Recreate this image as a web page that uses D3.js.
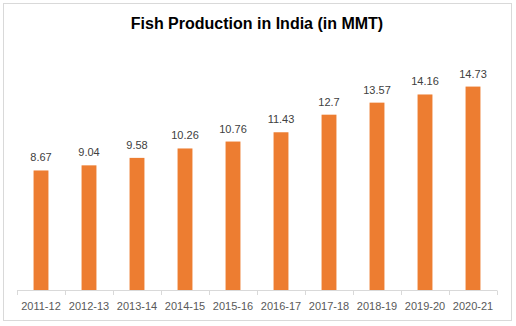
<!DOCTYPE html>
<html><head><meta charset="utf-8">
<script src="https://cdn.jsdelivr.net/npm/d3@7"></script>
<style>body{margin:0;background:#fff}svg{display:block}</style>
</head><body><svg id="c" width="516" height="326"></svg>
<script>
const title = "Fish Production in India (in MMT)";
const categories = ["2011-12","2012-13","2013-14","2014-15","2015-16","2016-17","2017-18","2018-19","2019-20","2020-21"];
const values = [8.67, 9.04, 9.58, 10.26, 10.76, 11.43, 12.7, 13.57, 14.16, 14.73];
const labels = ["8.67","9.04","9.58","10.26","10.76","11.43","12.7","13.57","14.16","14.73"];

const svg = d3.select("#c");
svg.append("rect").attr("x",0).attr("y",0).attr("width",516).attr("height",326).attr("fill","#fff");
svg.append("rect").attr("x",3.5).attr("y",3.5).attr("width",508).attr("height",317)
  .attr("fill","#fff").attr("stroke","#d9d9d9").attr("stroke-width",1);

svg.append("text").attr("x",257).attr("y",29).attr("text-anchor","middle")
  .attr("font-family","'Liberation Sans', Arial, sans-serif").attr("font-weight","bold")
  .attr("font-size",16).attr("fill","#000").text(title);

const x = d3.scaleBand().domain(categories).range([17,497]).paddingInner(0.69).paddingOuter(0.345);
const y = d3.scaleLinear().domain([0,16]).range([290.5,69]);

svg.append("g").selectAll("rect").data(values).join("rect")
  .attr("x",(d,i)=>x(categories[i])).attr("width",x.bandwidth())
  .attr("y",d=>y(d)).attr("height",d=>y(0)-y(d)).attr("fill","#ed7d31");

svg.append("g").selectAll("text").data(values).join("text")
  .attr("x",(d,i)=>x(categories[i])+x.bandwidth()/2).attr("y",d=>y(d)-9)
  .attr("text-anchor","middle").attr("font-family","'Liberation Sans', Arial, sans-serif")
  .attr("font-size",11).attr("fill","#404040").text((d,i)=>labels[i]);

const xb = d3.scalePoint().domain(d3.range(categories.length+1)).range([17,497]);
const ax = svg.append("g");
ax.append("line").attr("x1",17).attr("x2",497).attr("y1",290.5).attr("y2",290.5).attr("stroke","#d9d9d9");
ax.selectAll("line.t").data(xb.domain()).join("line").attr("class","t")
  .attr("x1",d=>Math.round(xb(d))+0.5).attr("x2",d=>Math.round(xb(d))+0.5)
  .attr("y1",290.5).attr("y2",295).attr("stroke","#d9d9d9");
svg.append("g").selectAll("text").data(categories).join("text")
  .attr("x",d=>x(d)+x.bandwidth()/2).attr("y",309.5)
  .attr("text-anchor","middle").attr("font-family","'Liberation Sans', Arial, sans-serif")
  .attr("font-size",11).attr("fill","#595959").text(d=>d);
</script></body></html>
